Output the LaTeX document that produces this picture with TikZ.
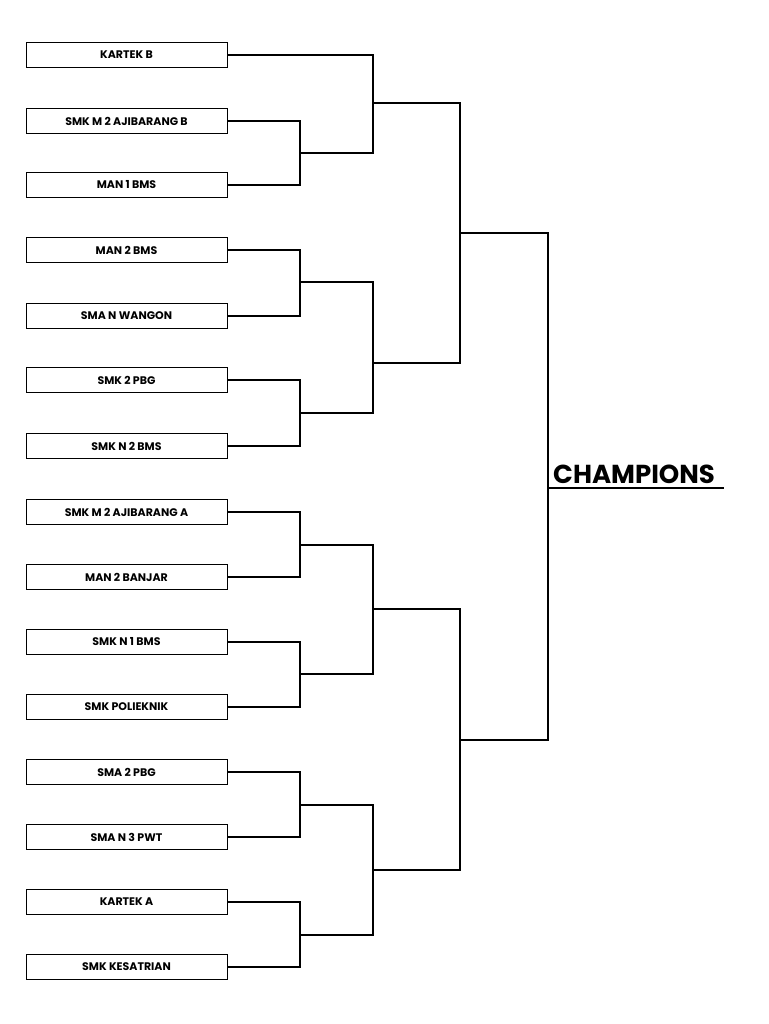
\documentclass[tikz,border=0pt]{standalone}
\usetikzlibrary{calc}
\usepackage{fontspec}
\setmainfont{Poppins}
\begin{document}
\begin{tikzpicture}[x=1pt,y=-1pt,
 team/.style={draw,line width=0.8pt,minimum width=201pt,minimum height=25pt,inner sep=0pt,font=\fontsize{11}{13}\selectfont\bfseries},
 ln/.style={line width=1.4pt}]
\useasboundingbox (0,0) rectangle (768,1024);
\foreach \n/\y/\t in {1/55/KARTEK B,2/121/SMK M 2 AJIBARANG B,3/185/MAN 1 BMS,4/250/MAN 2 BMS,5/316/SMA N WANGON,6/380/SMK 2 PBG,7/446/SMK N 2 BMS,8/512/SMK M 2 AJIBARANG A,9/577/MAN 2 BANJAR,10/642/SMK N 1 BMS,11/707/SMK POLIEKNIK,12/772/SMA 2 PBG,13/837/SMA N 3 PWT,14/902/KARTEK A,15/967/SMK KESATRIAN}
  \node[team] (t\n) at (126.5,\y) {\t};
% round 1 pairs
\foreach \a/\b/\m/\my in {2/3/a/153,4/5/b/282,6/7/c/413,8/9/d/545,10/11/e/674,12/13/f/805,14/15/g/935}{
  \coordinate (m\m) at (300,\my);
  \draw[ln] (t\a.east) -| (m\m) |- (t\b.east);
}
% round 2
\coordinate (q1) at (373,103);
\draw[ln] (t1.east) -| (q1); \draw[ln] (ma) -| (q1);
\coordinate (q2) at (373,363);
\draw[ln] (mb) -| (q2) |- (mc);
\coordinate (q3) at (373,609);
\draw[ln] (md) -| (q3) |- (me);
\coordinate (q4) at (373,870);
\draw[ln] (mf) -| (q4) |- (mg);
% round 3
\coordinate (s1) at (460,233);
\draw[ln] (q1) -| (s1) |- (q2);
\coordinate (s2) at (460,740);
\draw[ln] (q3) -| (s2) |- (q4);
% final
\coordinate (f) at (548,488);
\draw[ln] (s1) -| (f) |- (s2);
\node[anchor=south west,inner sep=0pt,font=\fontsize{26}{30}\selectfont\bfseries] (ch) at (553,484) {CHAMPIONS};
\coordinate (fe) at (724,488);
\draw[ln] (f) -- (fe);
\end{tikzpicture}
\end{document}
